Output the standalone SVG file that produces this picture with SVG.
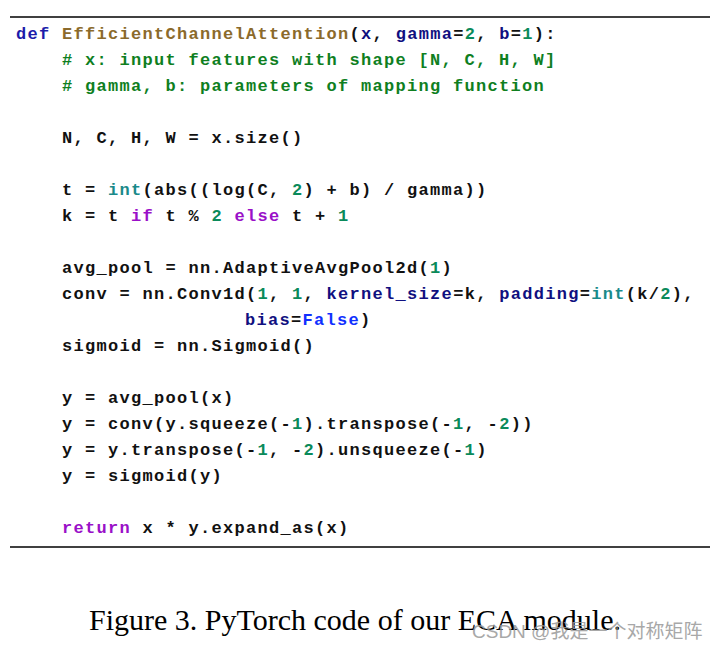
<svg xmlns="http://www.w3.org/2000/svg" width="720" height="649" viewBox="0 0 720 649">
<style>
.c{font-family:"Liberation Mono","Courier New",monospace;font-weight:bold;font-size:17px;letter-spacing:1.3px;fill:#111}
.kw{fill:#1c1caa}.rt{fill:#9a10c8}.fn{fill:#8b6a2b}.pa{fill:#101080}.nu{fill:#0a8a5a}.cm{fill:#0f7f1f}.bi{fill:#1a8a8a}.fa{fill:#1030ff}
.cap{font-family:"Liberation Serif","Times New Roman",serif;font-size:30px;fill:#000}
.wm{font-family:"Liberation Sans","Noto Sans CJK SC",sans-serif;font-size:19px;fill:#999;opacity:0.85}
</style>
<rect width="720" height="649" fill="#fff"/>
<line x1="10" y1="17" x2="710" y2="17" stroke="#000" stroke-width="1.5"/>
<line x1="10" y1="547" x2="710" y2="547" stroke="#000" stroke-width="1.5"/>
<g id="code">
<text class="c" x="16" y="39"><tspan class="kw">def</tspan> <tspan class="fn">EfficientChannelAttention</tspan>(<tspan class="pa">x</tspan>, <tspan class="pa">gamma</tspan>=<tspan class="nu">2</tspan>, <tspan class="pa">b</tspan>=<tspan class="nu">1</tspan>):</text>
<text class="c cm" x="62" y="65"># x: input features with shape [N, C, H, W]</text>
<text class="c cm" x="62" y="91"># gamma, b: parameters of mapping function</text>
<text class="c" x="62" y="143">N, C, H, W = x.size()</text>
<text class="c" x="62" y="195">t = <tspan class="bi">int</tspan>(abs((log(C, <tspan class="nu">2</tspan>) + b) / gamma))</text>
<text class="c" x="62" y="221">k = t <tspan class="rt">if</tspan> t % <tspan class="nu">2</tspan> <tspan class="rt">else</tspan> t + <tspan class="nu">1</tspan></text>
<text class="c" x="62" y="273">avg_pool = nn.AdaptiveAvgPool2d(<tspan class="nu">1</tspan>)</text>
<text class="c" x="62" y="299">conv = nn.Conv1d(<tspan class="nu">1</tspan>, <tspan class="nu">1</tspan>, <tspan class="pa">kernel_size</tspan>=k, <tspan class="pa">padding</tspan>=<tspan class="bi">int</tspan>(k/<tspan class="nu">2</tspan>),</text>
<text class="c" x="245" y="325"><tspan class="pa">bias</tspan>=<tspan class="fa">False</tspan>)</text>
<text class="c" x="62" y="351">sigmoid = nn.Sigmoid()</text>
<text class="c" x="62" y="403">y = avg_pool(x)</text>
<text class="c" x="62" y="429">y = conv(y.squeeze(-<tspan class="nu">1</tspan>).transpose(-<tspan class="nu">1</tspan>, -<tspan class="nu">2</tspan>))</text>
<text class="c" x="62" y="455">y = y.transpose(-<tspan class="nu">1</tspan>, -<tspan class="nu">2</tspan>).unsqueeze(-<tspan class="nu">1</tspan>)</text>
<text class="c" x="62" y="481">y = sigmoid(y)</text>
<text class="c" x="62" y="533"><tspan class="rt">return</tspan> x * y.expand_as(x)</text>
</g>
<text class="cap" x="355" y="630" text-anchor="middle">Figure 3. PyTorch code of our ECA module.</text>
<text class="wm" x="472" y="638">CSDN @我是一个对称矩阵</text>
</svg>
